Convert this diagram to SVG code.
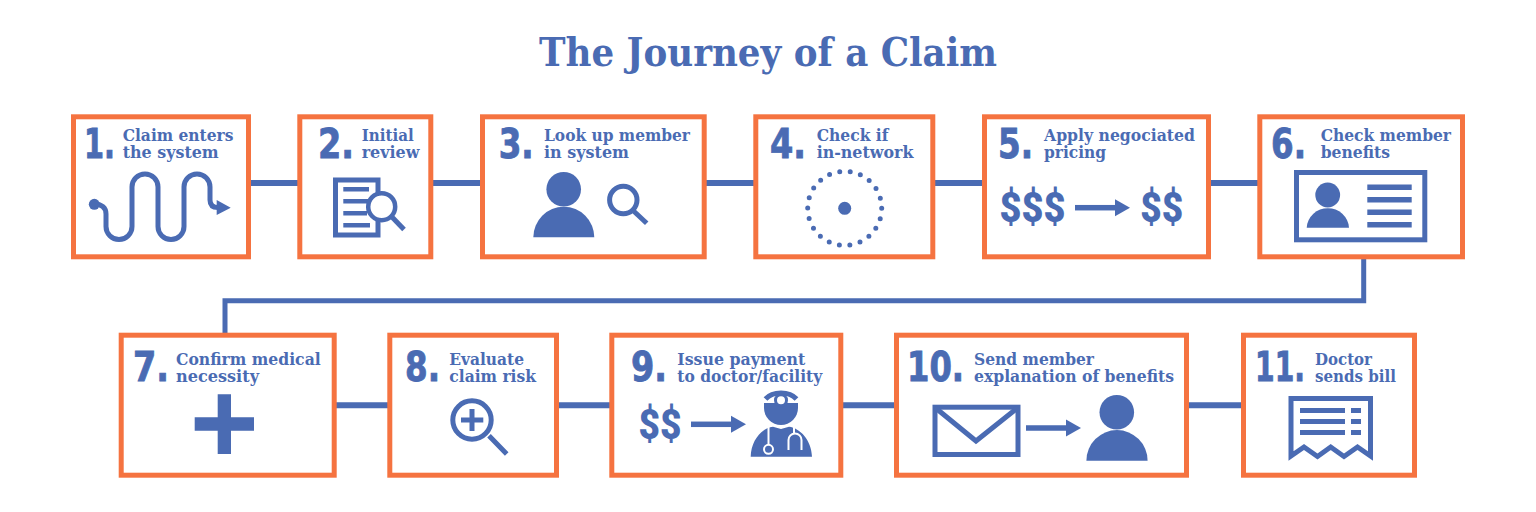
<svg xmlns="http://www.w3.org/2000/svg" width="1536" height="512" viewBox="0 0 1536 512">
<style>
.box{fill:#fff;stroke:#F57340;stroke-width:5}
.conn{fill:none;stroke:#4A6BB3}
.b{fill:#4A6BB3}
.s{fill:none;stroke:#4A6BB3;stroke-width:5}
.title{font-family:"DejaVu Serif","Liberation Serif",serif;font-weight:700;font-size:40px;fill:#4A6BB3}
.lab{font-family:"DejaVu Serif","Liberation Serif",serif;font-weight:700;font-size:17px;fill:#4A6BB3}
.num{font-family:"DejaVu Sans","Liberation Sans",sans-serif;font-weight:700;font-size:40px;fill:#4A6BB3;stroke:#4A6BB3;stroke-width:.9}
.usd{font-family:Roboto,"Liberation Sans",sans-serif;font-weight:900;font-size:42px;fill:#4A6BB3}
.w{fill:none;stroke:#fff;stroke-width:2}
</style>
<defs>
<g id="arrow"><rect x="0" y="-2.75" width="41" height="5.5" class="b"/><path d="M40 -8.5L55 0L40 8.5Z" class="b"/></g>
</defs>
<text class="title" x="539" y="66" textLength="458" lengthAdjust="spacingAndGlyphs">The Journey of a Claim</text>
<g id="connectors" class="conn">
<path stroke-width="6" d="M250 183H298M432 183H481M705 183H754M934 183H983M1210 183H1258M335 405.300H388M558 405.300H610M842 405.300H895M1188 405.300H1242"/>
<path stroke-width="5" d="M1363.700 258V300.700H225V334"/>
</g>
<g id="node1">
<rect class="box" x="73.500" y="116.800" width="175" height="140"/>
<text class="num" x="84" y="157.700" textLength="31" lengthAdjust="spacingAndGlyphs">1.</text>
<text class="lab" x="122.700" y="141" textLength="110.700" lengthAdjust="spacingAndGlyphs">Claim enters</text>
<text class="lab" x="122.700" y="158" textLength="96" lengthAdjust="spacingAndGlyphs">the system</text>
<circle class="b" cx="94.300" cy="204.300" r="5.500"/>
<path class="s" d="M94 204C102 204 106 208 106 214V226.500A13 13 0 0 0 132 226.500V187A13 13 0 0 1 158 187V226.500A13 13 0 0 0 184 226.500V187A13 13 0 0 1 210 187V200Q210 207.500 218 207.500"/>
<path class="b" d="M216.700 200L230.700 207.700L216.700 215Z"/>
</g>
<g id="node2">
<rect class="box" x="299.800" y="116.800" width="131" height="140"/>
<text class="num" x="318" y="157.700" textLength="36" lengthAdjust="spacingAndGlyphs">2.</text>
<text class="lab" x="361.700" y="141" textLength="52" lengthAdjust="spacingAndGlyphs">Initial</text>
<text class="lab" x="361.700" y="158" textLength="57.700" lengthAdjust="spacingAndGlyphs">review</text>
<rect class="s" x="335.500" y="180" width="42.500" height="55" stroke-width="4.500"/>
<path class="b" d="M343.300 187H369V191.600H343.300ZM343.300 199H369V203.600H343.300ZM343.300 211H367V215.600H343.300ZM343.300 223H370V227.600H343.300Z"/>
<circle cx="381.700" cy="206.700" r="13.500" fill="#fff" stroke="#4A6BB3" stroke-width="4.500"/>
<path class="s" d="M392 217L404 229.500"/>
</g>
<g id="node3">
<rect class="box" x="482.500" y="116.800" width="221.700" height="140"/>
<text class="num" x="498.700" y="157.700" textLength="35" lengthAdjust="spacingAndGlyphs">3.</text>
<text class="lab" x="544" y="141" textLength="146" lengthAdjust="spacingAndGlyphs">Look up member</text>
<text class="lab" x="544" y="158" textLength="85" lengthAdjust="spacingAndGlyphs">in system</text>
<circle class="b" cx="563.700" cy="189.300" r="17.300"/>
<path class="b" d="M533.300 237.300A30.500 30.500 0 0 1 594.300 237.300Z"/>
<circle class="s" cx="623.300" cy="200" r="13.700"/>
<path class="s" d="M632.500 210L646.700 223.300"/>
</g>
<g id="node4">
<rect class="box" x="755.800" y="116.800" width="177" height="140"/>
<text class="num" x="770" y="157.700" textLength="36" lengthAdjust="spacingAndGlyphs">4.</text>
<text class="lab" x="816.700" y="141" textLength="71.700" lengthAdjust="spacingAndGlyphs">Check if</text>
<text class="lab" x="816.700" y="158" textLength="96.700" lengthAdjust="spacingAndGlyphs">in-network</text>
<circle class="b" cx="844.700" cy="208.300" r="6.500"/>
<circle cx="844.700" cy="208.300" r="37" fill="none" stroke="#4A6BB3" stroke-width="5" stroke-linecap="round" stroke-dasharray="0 10.567"/>
</g>
<g id="node5">
<rect class="box" x="984.500" y="116.800" width="224" height="140"/>
<text class="num" x="998" y="157.700" textLength="35" lengthAdjust="spacingAndGlyphs">5.</text>
<text class="lab" x="1044" y="141" textLength="151" lengthAdjust="spacingAndGlyphs">Apply negociated</text>
<text class="lab" x="1044" y="158" textLength="62" lengthAdjust="spacingAndGlyphs">pricing</text>
<text class="usd" x="999.500" y="221.500" textLength="66" lengthAdjust="spacingAndGlyphs">$$$</text>
<text class="usd" x="1140.200" y="221.500" textLength="43" lengthAdjust="spacingAndGlyphs">$$</text>
<use href="#arrow" x="1075" y="207.700"/>
</g>
<g id="node6">
<rect class="box" x="1259.800" y="116.800" width="202.700" height="140"/>
<text class="num" x="1271" y="157.700" textLength="35" lengthAdjust="spacingAndGlyphs">6.</text>
<text class="lab" x="1320.700" y="141" textLength="130.300" lengthAdjust="spacingAndGlyphs">Check member</text>
<text class="lab" x="1320.700" y="158" textLength="69.300" lengthAdjust="spacingAndGlyphs">benefits</text>
<rect class="s" x="1296.500" y="172.500" width="128.300" height="67.300"/>
<circle class="b" cx="1327.700" cy="195" r="12.400"/>
<path class="b" d="M1306.700 227.700A21.200 21 0 0 1 1349 227.700Z"/>
<path class="b" d="M1367.300 184.500H1411.700V190H1367.300ZM1367.300 197H1411.700V202.500H1367.300ZM1367.300 209.500H1411.700V215H1367.300ZM1367.300 222H1411.700V227.500H1367.300Z"/>
</g>
<g id="node7">
<rect class="box" x="121.200" y="335.200" width="213" height="140"/>
<text class="num" x="133" y="380.700" textLength="36" lengthAdjust="spacingAndGlyphs">7.</text>
<text class="lab" x="176" y="364.700" textLength="144.700" lengthAdjust="spacingAndGlyphs">Confirm medical</text>
<text class="lab" x="176" y="381.700" textLength="83" lengthAdjust="spacingAndGlyphs">necessity</text>
<path class="b" d="M217.700 394.300H231V417.300H254V430.700H231V454H217.700V430.700H194.700V417.300H217.700Z"/>
</g>
<g id="node8">
<rect class="box" x="389.800" y="335.200" width="166.700" height="140"/>
<text class="num" x="405" y="380.700" textLength="35" lengthAdjust="spacingAndGlyphs">8.</text>
<text class="lab" x="449.300" y="364.700" textLength="74.700" lengthAdjust="spacingAndGlyphs">Evaluate</text>
<text class="lab" x="449.300" y="381.700" textLength="86.700" lengthAdjust="spacingAndGlyphs">claim risk</text>
<circle class="s" cx="472" cy="420" r="19.200"/>
<path class="s" d="M461 420H483.300M472 409V431M489 435.700L506.700 454"/>
</g>
<g id="node9">
<rect class="box" x="611.800" y="335.200" width="229" height="140"/>
<text class="num" x="631" y="380.700" textLength="36" lengthAdjust="spacingAndGlyphs">9.</text>
<text class="lab" x="677.300" y="364.700" textLength="128" lengthAdjust="spacingAndGlyphs">Issue payment</text>
<text class="lab" x="677.300" y="381.700" textLength="145" lengthAdjust="spacingAndGlyphs">to doctor/facility</text>
<text class="usd" x="638.500" y="439" textLength="43" lengthAdjust="spacingAndGlyphs">$$</text>
<use href="#arrow" x="691" y="424.300"/>
<path class="b" d="M764 403H798V408A17 17 0 0 1 764 408Z"/>
<path class="s" d="M765.500 399C770 394 776 393 781 393C786 393 792 394 796.500 399" stroke-width="3.500"/>
<path class="b" d="M750.700 456.700C751 440 762 428 773 426.700L781 429L789 426.700C800 428 811.500 440 812 456.700Z"/>
<circle cx="781" cy="400.300" r="5.500" fill="#fff" stroke="#4A6BB3" stroke-width="3"/>
<path class="w" d="M768.500 427V445"/>
<circle cx="768.500" cy="449.300" r="4.500" fill="#4A6BB3" stroke="#fff" stroke-width="2"/>
<path class="w" d="M788.500 450V440A6.500 6.500 0 0 1 801.500 440V450M794 433.500V427"/>
</g>
<g id="node10">
<rect class="box" x="896.500" y="335.200" width="290" height="140"/>
<text class="num" transform="translate(907,380.700) scale(.805,1)">10.</text>
<text class="lab" x="974" y="364.700" textLength="120" lengthAdjust="spacingAndGlyphs">Send member</text>
<text class="lab" x="974" y="381.700" textLength="200" lengthAdjust="spacingAndGlyphs">explanation of benefits</text>
<rect class="s" x="935" y="407.200" width="83" height="47.300" stroke-width="4.500"/>
<path class="s" d="M935 407.500L976 441L1018 407.500" stroke-width="4.500"/>
<use href="#arrow" x="1026" y="428"/>
<circle class="b" cx="1116.800" cy="412.300" r="17.300"/>
<path class="b" d="M1086.400 460.700A30.600 30.600 0 0 1 1147.600 460.700Z"/>
</g>
<g id="node11">
<rect class="box" x="1243.500" y="335.200" width="171" height="140"/>
<text class="num" transform="translate(1255,380.700) scale(.706,1)">11.</text>
<text class="lab" x="1315" y="364.700" textLength="57" lengthAdjust="spacingAndGlyphs">Doctor</text>
<text class="lab" x="1315" y="381.700" textLength="81" lengthAdjust="spacingAndGlyphs">sends bill</text>
<path class="s" d="M1291 398.500H1370.500V456L1357.500 447L1344 456.500L1330.700 447L1317.500 456.500L1304 447L1291 456Z"/>
<path class="b" d="M1300 408H1345V413H1300ZM1300 419H1345V424H1300ZM1300 430H1345V435H1300ZM1351 408H1361V413H1351ZM1351 419H1361V424H1351ZM1351 430H1361V435H1351Z"/>
</g>
</svg>
